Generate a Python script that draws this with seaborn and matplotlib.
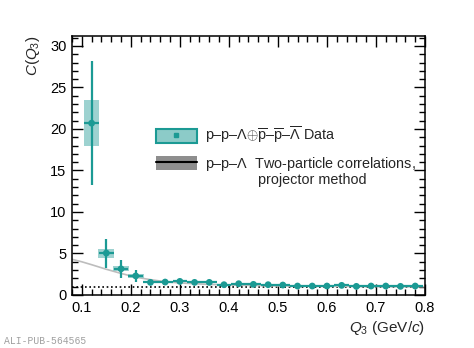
import numpy as np
import pandas as pd
import matplotlib
matplotlib.use("Agg")
import matplotlib.pyplot as plt
import seaborn as sns
from matplotlib.patches import Patch
from matplotlib.lines import Line2D
from matplotlib.ticker import MultipleLocator

# ---- data ----
q3 = [0.12, 0.15, 0.18, 0.21, 0.24, 0.27, 0.30, 0.33, 0.36, 0.39, 0.42, 0.45,
      0.48, 0.51, 0.54, 0.57, 0.60, 0.63, 0.66, 0.69, 0.72, 0.75, 0.78]
c_val = [20.7, 5.05, 3.15, 2.3, 1.52, 1.56, 1.64, 1.52, 1.52, 1.24, 1.36, 1.28,
         1.24, 1.2, 1.08, 1.08, 1.08, 1.16, 1.04, 1.08, 1.08, 1.04, 1.08]
c_stat = [7.5, 1.75, 1.05, 0.7, 0.15, 0.12, 0.12, 0.1, 0.1, 0.1, 0.1, 0.1,
          0.08, 0.08, 0.08, 0.08, 0.08, 0.08, 0.08, 0.08, 0.08, 0.08, 0.08]
c_syst = [2.8, 0.55, 0.3, 0.2, 0.1, 0.1, 0.1, 0.08, 0.08, 0.08, 0.08, 0.08,
          0.06, 0.06, 0.06, 0.06, 0.06, 0.06, 0.06, 0.06, 0.06, 0.06, 0.06]
bin_half = 0.015
syst_half = 0.016

theory_q = [0.08, 0.10, 0.12, 0.15, 0.18, 0.21, 0.24, 0.27, 0.30, 0.35, 0.40,
            0.50, 0.60, 0.70, 0.80]
theory_c = [4.3, 4.0, 3.65, 3.1, 2.6, 2.15, 1.85, 1.6, 1.45, 1.3, 1.2,
            1.1, 1.05, 1.02, 1.0]

xticks = [0.1, 0.2, 0.3, 0.4, 0.5, 0.6, 0.7, 0.8]
yticks = [0, 5, 10, 15, 20, 25, 30]

df = pd.DataFrame({"q3": q3, "c": c_val, "stat": c_stat, "syst": c_syst})
th = pd.DataFrame({"q": theory_q, "c": theory_c})

teal = "#1b9a94"
teal_fill = "#8ccbc8"

sns.set_theme(style="ticks")
plt.rcParams["font.family"] = ["Liberation Sans", "DejaVu Sans"]
plt.rcParams["mathtext.fontset"] = "custom"
plt.rcParams["mathtext.rm"] = "Liberation Sans"
plt.rcParams["mathtext.it"] = "Liberation Sans:italic"
plt.rcParams["mathtext.bf"] = "Liberation Sans:bold"

fig = plt.figure(figsize=(4.74, 3.48), dpi=100)
ax = fig.add_axes([72 / 474, 1 - 295 / 348, (425 - 72) / 474, (295 - 36) / 348])

# baseline
ax.axhline(1.0, color="black", ls=(0, (1, 1.6)), lw=1.2, zorder=1)

# theory curve
sns.lineplot(data=th, x="q", y="c", ax=ax, color="#bdbdbd", lw=1.2, zorder=2)

# systematic boxes
ax.bar(df["q3"], 2 * df["syst"], bottom=df["c"] - df["syst"], width=2 * syst_half,
       color=teal_fill, edgecolor="none", alpha=0.85, zorder=3)

# stat errors
ax.errorbar(df["q3"], df["c"], yerr=df["stat"], xerr=bin_half, fmt="none",
            ecolor=teal, elinewidth=1.6, capsize=0, zorder=4)
sns.scatterplot(data=df, x="q3", y="c", ax=ax, color=teal, s=24, marker="o",
                edgecolor="none", zorder=5)

ax.set_xlim(0.08, 0.8)
ax.set_ylim(0, 31.2)
ax.set_xticks(xticks)
ax.set_xticklabels([f"{t:.1f}" for t in xticks])
ax.set_yticks(yticks)
ax.xaxis.set_minor_locator(MultipleLocator(0.02))
ax.yaxis.set_minor_locator(MultipleLocator(1))
ax.tick_params(which="both", direction="in", top=True, right=True,
               labelsize=10.5, colors="black", pad=4)
ax.tick_params(which="major", length=8, width=1)
ax.tick_params(which="minor", length=4, width=1)
for s in ax.spines.values():
    s.set_linewidth(1.1)
    s.set_color("black")

ax.set_xlabel(r"$Q_3$ (GeV/$c$)", fontsize=11, loc="right", labelpad=3)
ax.set_ylabel(r"$C(Q_3)$", fontsize=11, loc="top", labelpad=6)

# legend
h1 = (Patch(facecolor=teal_fill, edgecolor=teal, lw=1.5),
      Line2D([], [], marker="s", ms=3.5, color=teal, ls="none"))
h2 = (Patch(facecolor="#8e8e8e", edgecolor="none"),
      Line2D([], [], color="black", lw=1.5))
lab1 = r"p–p–$\Lambda{\oplus}\overline{\rm p}$–$\overline{\rm p}$–$\overline{\Lambda}$ Data"
lab2 = r"p–p–$\Lambda$  Two-particle correlations,"
leg = ax.legend([h1, h2], [lab1, lab2], frameon=False, fontsize=10.4,
                loc="upper left", bbox_to_anchor=(150 / 474, 1 - 119 / 348),
                bbox_transform=fig.transFigure, handlelength=2.85,
                handleheight=1.08, labelspacing=0.6, handletextpad=0.55,
                borderaxespad=0)
fig.text(258 / 474, 1 - 180 / 348, "projector method", fontsize=10.4,
         va="center", ha="left")

fig.text(4 / 474, 1 - 341 / 348, "ALI-PUB-564565", fontsize=7,
         family="Liberation Mono", color="#a0a0a0", va="center", ha="left")

fig.savefig("out.png", dpi=100)
